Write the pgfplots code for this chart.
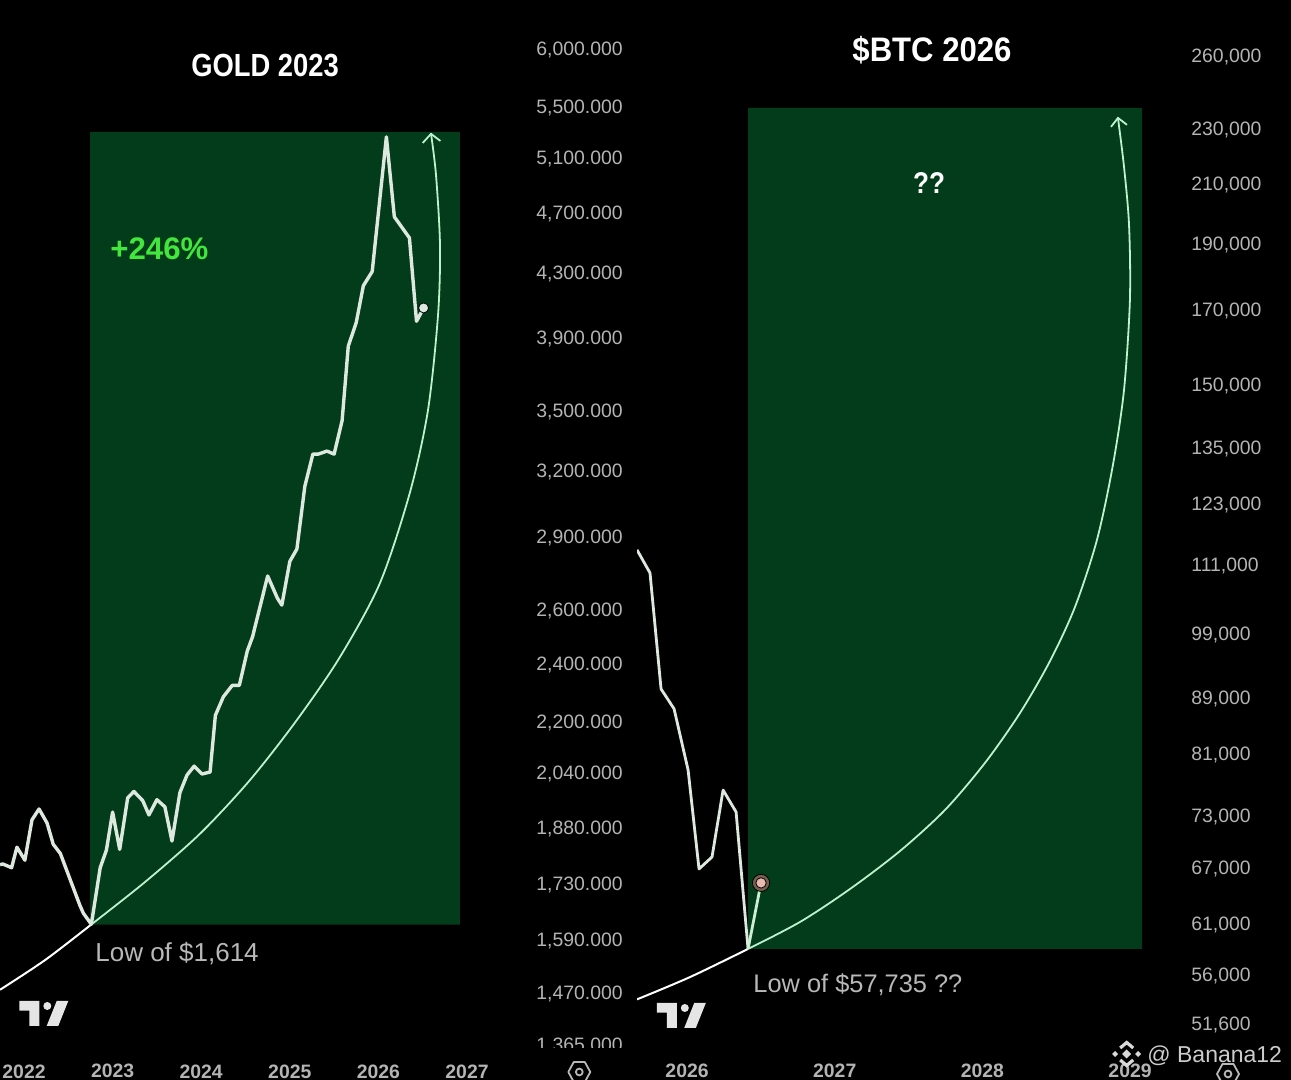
\documentclass[border=0pt]{standalone}
\usepackage{fontspec}
\setmainfont{Liberation Sans}
\usepackage{pgfplots}
\pgfplotsset{compat=1.18}

\definecolor{boxgreen}{HTML}{033C1A}
\definecolor{pricel}{HTML}{DDE8DF}
\definecolor{mint}{HTML}{BDF2CB}
\definecolor{mintl}{HTML}{CDEED0}
\definecolor{halo}{HTML}{75604F}
\definecolor{dotpink}{HTML}{E8BAB0}
\definecolor{ticktxt}{HTML}{B4B4B4}
\definecolor{lowtxt}{HTML}{B8B8B8}
\definecolor{pct}{HTML}{42E63C}

% 1 px of the reference = 0.5pt here
\pgfplotsset{
  tvaxis/.style={
    scale only axis,
    axis line style={draw=none}, major tick length=0pt, minor tick length=0pt,
    tick style={draw=none},
    yticklabel pos=right, xtick pos=bottom,
    xticklabel style={anchor=center, yshift=-11.7pt, inner sep=0pt, font=\fontsize{9.7}{10}\selectfont\bfseries, text=ticktxt},
    yticklabel style={anchor=west, xshift=3pt, yshift=-1pt, inner sep=0pt, font=\fontsize{9.7}{10}\selectfont, text=ticktxt},
  }
}

\begin{document}
\begin{tikzpicture}
\path[use as bounding box, fill=black] (0,0) rectangle (645.5pt,540pt);
\clip (0,0) rectangle (645.5pt,540pt);

% GOLD
\begin{axis}[ymode=log, tvaxis, at={(0pt,16pt)}, anchor=south west, width=265pt, height=524pt,
  xmin=2021.729, xmax=2027.711, ymin=1352.5, ymax=6445,
  xtick={2022,2023,2024,2025,2026,2027},
  xticklabels={2022,2023,2024,2025,2026,2027},
  ytick={1361,1470,1590,1730,1880,2040,2200,2400,2600,2900,3200,3500,3900,4300,4700,5100,5500,6000},
  yticklabels={{1,365.000},{1,470.000},{1,590.000},{1,730.000},{1,880.000},{2,040.000},{2,200.000},{2,400.000},{2,600.000},{2,900.000},{3,200.000},{3,500.000},{3,900.000},{4,300.000},{4,700.000},{5,100.000},{5,500.000},{6,000.000}},
]
\addplot[fill=boxgreen, draw=none] coordinates {(2022.745,1625) (2026.92,1625) (2026.92,5294) (2022.745,5294) (2022.745,1625)};
% curve
\addplot[white, line width=1pt, smooth] coordinates {
(2021.73,1475) (2022.24,1542) (2022.756,1625)};
\addplot[mint, line width=0.9pt, smooth] coordinates {
(2022.756,1625) (2023.366,1732) (2023.986,1861) (2024.551,2016) (2025.081,2205) (2025.567,2422)
(2026.018,2704) (2026.357,3096) (2026.560,3499) (2026.673,4031) (2026.695,4473) (2026.650,4965)
(2026.594,5279)};
\addplot[mint, line width=0.9pt] coordinates {(2026.50,5208) (2026.594,5279) (2026.70,5223)};
% price
\addplot[pricel, line width=1.7pt, line join=round] coordinates {
(2021.73,1777) (2021.76,1779) (2021.86,1769) (2021.92,1824) (2022.01,1789) (2022.09,1900)
(2022.17,1931) (2022.26,1891) (2022.33,1832) (2022.41,1807) (2022.63,1673) (2022.67,1653)
(2022.76,1626) (2022.86,1769) (2022.93,1816) (2023.00,1922) (2023.08,1818) (2023.17,1963)
(2023.24,1982) (2023.34,1955) (2023.41,1914) (2023.50,1958) (2023.59,1937) (2023.67,1841)
(2023.76,1979) (2023.84,2031) (2023.92,2058) (2024.01,2034) (2024.10,2040) (2024.16,2220)
(2024.25,2282) (2024.35,2321) (2024.43,2321) (2024.52,2443) (2024.58,2496) (2024.75,2732)
(2024.86,2643) (2024.91,2616) (2025.00,2792) (2025.08,2844) (2025.17,3124) (2025.26,3276)
(2025.32,3276) (2025.42,3291) (2025.50,3276) (2025.59,3443) (2025.66,3848) (2025.75,3987)
(2025.83,4210) (2025.93,4300) (2026.09,5255) (2026.18,4665) (2026.35,4521) (2026.43,3993)
(2026.51,4073)};
\addplot[only marks, mark=*, mark size=2.5pt, mark options={draw=none, fill=pricel}] coordinates {(2026.51,4073)};
\end{axis}

% BTC
\begin{axis}[ymode=log, tvaxis, at={(318.5pt,16pt)}, anchor=south west, width=274pt, height=524pt,
  xmin=2025.661, xmax=2029.372, ymin=49491, ymax=285000,
  xtick={2026,2027,2028,2029},
  xticklabels={2026,2027,2028,2029},
  ytick={51600,56000,61000,67000,73000,81000,89000,99000,111000,123000,135000,150000,170000,190000,210000,230000,260000},
  yticklabels={{51,600},{56,000},{61,000},{67,000},{73,000},{81,000},{89,000},{99,000},{111,000},{123,000},{135,000},{150,000},{170,000},{190,000},{210,000},{230,000},{260,000}},
]
\addplot[fill=boxgreen, draw=none] coordinates {(2026.413,58390) (2029.081,58390) (2029.081,237970) (2026.413,237970) (2026.413,58390)};
\addplot[white, line width=1pt, smooth] coordinates {
(2025.661,53670) (2026.020,55710) (2026.413,58390)};
\addplot[mint, line width=0.9pt, smooth] coordinates {
(2026.413,58390) (2026.765,61080) (2027.104,64550) (2027.442,68770) (2027.747,73660) (2028.018,79690)
(2028.255,86610) (2028.458,94460) (2028.627,103380) (2028.776,115650) (2028.884,131070) (2028.959,148560)
(2028.999,172670) (2028.993,195730) (2028.959,215640) (2028.918,234010)};
\addplot[mint, line width=0.9pt] coordinates {(2028.871,230540) (2028.918,234010) (2028.979,231320)};
\addplot[pricel, line width=1.4pt, line join=round] coordinates {
(2025.661,113720) (2025.749,109430) (2025.824,90140) (2025.912,87200) (2026.007,78750) (2026.081,66740)
(2026.169,68090) (2026.244,76150) (2026.332,73400) (2026.413,58390)};
\addplot[mintl, line width=1.4pt] coordinates {(2026.413,58390) (2026.501,65200)};
\addplot[only marks, mark=*, mark size=4.3pt, mark options={draw=none, fill=halo}] coordinates {(2026.501,65200)};
\addplot[only marks, mark=*, mark size=2.6pt, mark options={draw=none, fill=dotpink}] coordinates {(2026.501,65200)};
\end{axis}

% everything below is placed in reference pixels, origin top left
\begin{scope}[x=0.5pt,y=-0.5pt,yshift=540pt]
\fill[black] (528,1048) rectangle (630,1056);

\node[white, font=\fontsize{16}{16}\selectfont\bfseries, xscale=0.855] at (265,66) {GOLD 2023};
\node[white, font=\fontsize{17}{17}\selectfont\bfseries, xscale=0.915] at (932,50.5) {\$BTC 2026};
\node[pct, font=\fontsize{15.6}{16}\selectfont\bfseries, anchor=west, inner sep=0pt] at (110,248.5) {+246\%};
\node[white, font=\fontsize{15}{15}\selectfont\bfseries, xscale=0.87] at (929,183) {??};
\node[lowtxt, font=\fontsize{13}{13}\selectfont, anchor=west, inner sep=0pt] at (95,954) {Low of \$1,614};
\node[lowtxt, font=\fontsize{12.7}{13}\selectfont, anchor=west, inner sep=0pt] at (753,985) {Low of \$57,735 ??};

% TradingView marks
\foreach \dx/\dy in {0/0,637.5/2}{
  \begin{scope}[shift={(\dx,\dy)}]
    \fill[white!90!black] (19.3,1001) -- (39.3,1001) -- (39.3,1026) -- (29.3,1026) -- (29.3,1010.7) -- (19.3,1010.7) -- cycle;
    \fill[white!90!black] (47.3,1006) circle (4);
    \fill[white!90!black] (56.7,1001) -- (68.3,1001) -- (58.3,1026) -- (46.7,1026) -- cycle;
  \end{scope}
}
% settings icons
\foreach \cx/\cy in {579.3/1072,1228/1074}{
  \draw[lowtxt, line width=0.9pt, line join=round] (\cx-11,\cy) -- (\cx-5.5,\cy-10) -- (\cx+5.5,\cy-10) -- (\cx+11,\cy) -- (\cx+5.5,\cy+10) -- (\cx-5.5,\cy+10) -- cycle;
  \draw[lowtxt, line width=0.9pt] (\cx,\cy) circle (3.4);
}
% watermark
\begin{scope}[shift={(1126.7,1054)}]
  \fill[white!85!black] (0,-4.5) -- (4.5,0) -- (0,4.5) -- (-4.5,0) -- cycle;
  \fill[white!85!black] (-14.5,0) -- (-11.5,-3) -- (-8.5,0) -- (-11.5,3) -- cycle;
  \fill[white!85!black] (14.5,0) -- (11.5,-3) -- (8.5,0) -- (11.5,3) -- cycle;
  \draw[white!85!black, line width=1.6pt] (-6.5,-6) -- (0,-11.5) -- (6.5,-6);
  \draw[white!85!black, line width=1.6pt] (-6.5,6) -- (0,11.5) -- (6.5,6);
\end{scope}
\node[white!80!black, font=\fontsize{11.5}{12}\selectfont, anchor=west, inner sep=0pt] at (1147,1056) {@ Banana12};
\end{scope}
\end{tikzpicture}
\end{document}
